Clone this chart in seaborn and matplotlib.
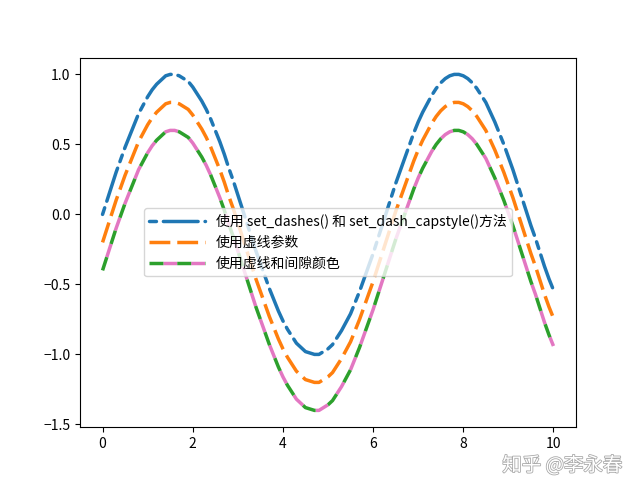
import matplotlib
matplotlib.use("Agg")
import matplotlib.pyplot as plt
import matplotlib.patheffects as pe
import seaborn as sns

plt.rcParams['font.family'] = ['Noto Sans CJK SC', 'DejaVu Sans']
plt.rcParams['lines.linewidth'] = 2.5

x = [0.0, 0.1, 0.2, 0.3, 0.4, 0.5, 0.6, 0.7, 0.8, 0.9,
     1.0, 1.1, 1.2, 1.3, 1.4, 1.5, 1.6, 1.7, 1.8, 1.9,
     2.0, 2.1, 2.2, 2.3, 2.4, 2.5, 2.6, 2.7, 2.8, 2.9,
     3.0, 3.1, 3.2, 3.3, 3.4, 3.5, 3.6, 3.7, 3.8, 3.9,
     4.0, 4.1, 4.2, 4.3, 4.4, 4.5, 4.6, 4.7, 4.8, 4.9,
     5.0, 5.1, 5.2, 5.3, 5.4, 5.5, 5.6, 5.7, 5.8, 5.9,
     6.0, 6.1, 6.2, 6.3, 6.4, 6.5, 6.6, 6.7, 6.8, 6.9,
     7.0, 7.1, 7.2, 7.3, 7.4, 7.5, 7.6, 7.7, 7.8, 7.9,
     8.0, 8.1, 8.2, 8.3, 8.4, 8.5, 8.6, 8.7, 8.8, 8.9,
     9.0, 9.1, 9.2, 9.3, 9.4, 9.5, 9.6, 9.7, 9.8, 9.9,
     10.0]
y1 = [0.00, 0.10, 0.20, 0.30, 0.39, 0.48, 0.56, 0.64, 0.72, 0.78,
      0.84, 0.89, 0.93, 0.96, 0.99, 1.00, 1.00, 0.99, 0.97, 0.95,
      0.91, 0.86, 0.81, 0.75, 0.68, 0.60, 0.52, 0.43, 0.33, 0.24,
      0.14, 0.04, -0.06, -0.16, -0.26, -0.35, -0.44, -0.53, -0.61, -0.69,
      -0.76, -0.82, -0.87, -0.92, -0.95, -0.98, -0.99, -1.00, -1.00, -0.98,
      -0.96, -0.93, -0.88, -0.83, -0.77, -0.71, -0.63, -0.55, -0.46, -0.37,
      -0.28, -0.18, -0.08, 0.02, 0.12, 0.22, 0.31, 0.40, 0.49, 0.58,
      0.66, 0.73, 0.79, 0.85, 0.90, 0.94, 0.97, 0.99, 1.00, 1.00,
      0.99, 0.97, 0.94, 0.90, 0.85, 0.80, 0.73, 0.66, 0.58, 0.50,
      0.41, 0.32, 0.22, 0.12, 0.02, -0.08, -0.17, -0.27, -0.37, -0.46,
      -0.54]
y2 = [-0.20, -0.10, 0.00, 0.10, 0.19, 0.28, 0.36, 0.44, 0.52, 0.58,
      0.64, 0.69, 0.73, 0.76, 0.79, 0.80, 0.80, 0.79, 0.77, 0.75,
      0.71, 0.66, 0.61, 0.55, 0.48, 0.40, 0.32, 0.23, 0.13, 0.04,
      -0.06, -0.16, -0.26, -0.36, -0.46, -0.55, -0.64, -0.73, -0.81, -0.89,
      -0.96, -1.02, -1.07, -1.12, -1.15, -1.18, -1.19, -1.20, -1.20, -1.18,
      -1.16, -1.13, -1.08, -1.03, -0.97, -0.91, -0.83, -0.75, -0.66, -0.57,
      -0.48, -0.38, -0.28, -0.18, -0.08, 0.02, 0.11, 0.20, 0.29, 0.38,
      0.46, 0.53, 0.59, 0.65, 0.70, 0.74, 0.77, 0.79, 0.80, 0.80,
      0.79, 0.77, 0.74, 0.70, 0.65, 0.60, 0.53, 0.46, 0.38, 0.30,
      0.21, 0.12, 0.02, -0.08, -0.18, -0.28, -0.37, -0.47, -0.57, -0.66,
      -0.74]
y3 = [-0.40, -0.30, -0.20, -0.10, -0.01, 0.08, 0.16, 0.24, 0.32, 0.38,
      0.44, 0.49, 0.53, 0.56, 0.59, 0.60, 0.60, 0.59, 0.57, 0.55,
      0.51, 0.46, 0.41, 0.35, 0.28, 0.20, 0.12, 0.03, -0.07, -0.16,
      -0.26, -0.36, -0.46, -0.56, -0.66, -0.75, -0.84, -0.93, -1.01, -1.09,
      -1.16, -1.22, -1.27, -1.32, -1.35, -1.38, -1.39, -1.40, -1.40, -1.38,
      -1.36, -1.33, -1.28, -1.23, -1.17, -1.11, -1.03, -0.95, -0.86, -0.77,
      -0.68, -0.58, -0.48, -0.38, -0.28, -0.18, -0.09, 0.00, 0.09, 0.18,
      0.26, 0.33, 0.39, 0.45, 0.50, 0.54, 0.57, 0.59, 0.60, 0.60,
      0.59, 0.57, 0.54, 0.50, 0.45, 0.40, 0.33, 0.26, 0.18, 0.10,
      0.01, -0.08, -0.18, -0.28, -0.38, -0.48, -0.57, -0.67, -0.77, -0.86,
      -0.94]

labels = ['使用 set_dashes() 和 set_dash_capstyle()方法', '使用虚线参数', '使用虚线和间隙颜色']
watermark = '知乎 @李永春'

fig, ax = plt.subplots(figsize=(6.4, 4.8), dpi=100)

sns.lineplot(x=x, y=y1, ax=ax, label=labels[0], color='tab:blue', linewidth=2.5)
l1 = ax.lines[-1]
l1.set_dashes([2, 2, 10, 2])
l1.set_dash_capstyle('round')

sns.lineplot(x=x, y=y2, ax=ax, label=labels[1], color='tab:orange', linewidth=2.5)
l2 = ax.lines[-1]
l2.set_dashes([6, 2])

sns.lineplot(x=x, y=y3, ax=ax, label=labels[2], color='tab:green', linewidth=2.5)
l3 = ax.lines[-1]
l3.set_dashes([4, 4])
l3.set_gapcolor('tab:pink')

ax.legend(handlelength=4)

fig.text(0.973, 0.008, watermark, ha='right', va='bottom', fontsize=14,
         color='white', path_effects=[pe.withStroke(linewidth=1.2, foreground='#aaaaaa')])

fig.savefig('out.png', dpi=100)
